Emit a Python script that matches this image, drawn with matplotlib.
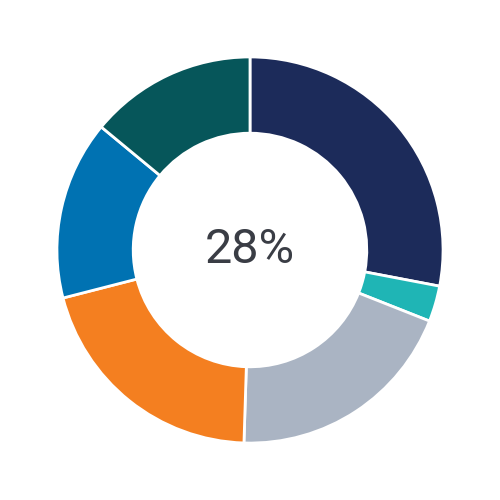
import matplotlib.pyplot as plt

labels = ['A', 'B', 'C', 'D', 'E', 'F']
values = [28, 3, 19.5, 20.5, 15, 14]
colors = ['#1c2b5a', '#1fb5b5', '#aab4c3', '#f47f20', '#0072b2', '#06565a']
center_text = '28%'

fig = plt.figure(figsize=(5, 5), dpi=100)
ax = fig.add_axes([0, 0, 1, 1])
ax.pie(values, colors=colors, startangle=90, counterclock=False,
       radius=1.0,
       wedgeprops=dict(width=0.395, edgecolor='white', linewidth=2))
ax.text(0, 0.0, center_text, ha='center', va='center', fontsize=35,
        color='#3a3d45', family=['Roboto', 'DejaVu Sans'])
ax.set_xlim(-1.295, 1.295)
ax.set_ylim(-1.295, 1.295)
ax.set_aspect('equal')
ax.axis('off')
fig.savefig('out.png', dpi=100, facecolor='white')
